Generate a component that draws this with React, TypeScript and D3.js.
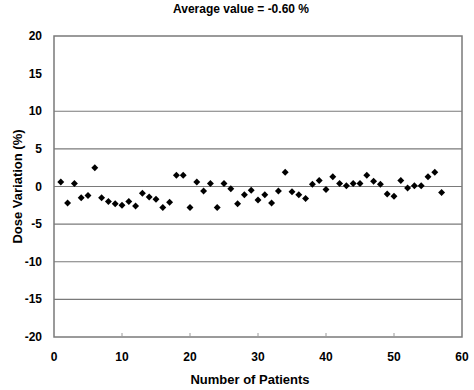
import React, { useEffect, useRef } from "react";
import * as d3 from "d3";

// dose variation (%) per patient, patients numbered 1..57
const doseVariation = [
  0.6, -2.2, 0.4, -1.5, -1.2, 2.5, -1.5, -2.0, -2.3, -2.5,
  -2.0, -2.6, -0.9, -1.4, -1.7, -2.8, -2.1, 1.5, 1.5, -2.8,
  0.6, -0.6, 0.4, -2.8, 0.4, -0.3, -2.3, -1.1, -0.5, -1.8,
  -1.1, -2.2, -0.6, 1.9, -0.7, -1.1, -1.6, 0.3, 0.8, -0.4,
  1.3, 0.4, 0.1, 0.4, 0.4, 1.5, 0.7, 0.3, -1.0, -1.3,
  0.8, -0.2, 0.1, 0.1, 1.3, 1.9, -0.8
];
const xTicks = [0, 10, 20, 30, 40, 50, 60];
const yTicks = [-20, -15, -10, -5, 0, 5, 10, 15, 20];
const gridValues = [-15, -10, -5, 0, 5, 10];
const title = "Average value = -0.60 %";
const xLabel = "Number of Patients";
const yLabel = "Dose Variation (%)";

const App = () => {
  const ref = useRef<SVGSVGElement>(null);

  useEffect(() => {
    const svgWidth = 474,
      svgHeight = 390;
    const margin = { top: 36, right: 12, bottom: 53, left: 54 };
    const width = svgWidth - margin.left - margin.right;
    const height = svgHeight - margin.top - margin.bottom;
    const font = "Arial, 'Liberation Sans', sans-serif";

    const svg = d3.select(ref.current);
    svg.selectAll("*").remove();
    svg.attr("width", svgWidth).attr("height", svgHeight);

    const g = svg
      .append("g")
      .attr("transform", `translate(${margin.left},${margin.top})`);

    const xScale = d3.scaleLinear().domain([0, 60]).range([0, width]);
    const yScale = d3.scaleLinear().domain([-20, 20]).range([height, 0]);

    // grid lines
    g.selectAll(".grid")
      .data(gridValues)
      .enter()
      .append("line")
      .attr("x1", 0)
      .attr("x2", width)
      .attr("y1", d => yScale(d))
      .attr("y2", d => yScale(d))
      .attr("stroke", "#7a7a7a")
      .attr("stroke-width", 1.2);

    // frame
    g.append("rect")
      .attr("x", 0)
      .attr("y", 0)
      .attr("width", width)
      .attr("height", height)
      .attr("fill", "none")
      .attr("stroke", "#7a7a7a")
      .attr("stroke-width", 1.5);

    // small ticks on bottom axis
    g.selectAll(".xtick")
      .data(xTicks.slice(1, -1))
      .enter()
      .append("line")
      .attr("x1", d => xScale(d))
      .attr("x2", d => xScale(d))
      .attr("y1", height)
      .attr("y2", height - 4)
      .attr("stroke", "#9a9a9a");

    g.selectAll(".xlab")
      .data(xTicks)
      .enter()
      .append("text")
      .attr("x", d => xScale(d))
      .attr("y", height + 24)
      .attr("text-anchor", "middle")
      .style("font-family", font)
      .style("font-weight", "bold")
      .style("font-size", "12px")
      .text(d => d);

    g.selectAll(".ylab")
      .data(yTicks)
      .enter()
      .append("text")
      .attr("x", -12)
      .attr("y", d => yScale(d) + 4)
      .attr("text-anchor", "end")
      .style("font-family", font)
      .style("font-weight", "bold")
      .style("font-size", "12px")
      .text(d => d);

    // diamonds: squares turned by 45 degrees
    const marker = d3.symbol().type(d3.symbolSquare).size(24);
    g.selectAll(".pt")
      .data(doseVariation)
      .enter()
      .append("path")
      .attr("d", marker)
      .attr(
        "transform",
        (d, i) => `translate(${xScale(i + 1)},${yScale(d)}) rotate(45)`
      )
      .attr("fill", "#000");

    svg
      .append("text")
      .attr("x", 241)
      .attr("y", 13)
      .attr("text-anchor", "middle")
      .style("font-family", font)
      .style("font-weight", "bold")
      .style("font-size", "12px")
      .text(title);

    svg
      .append("text")
      .attr("x", 250)
      .attr("y", 384)
      .attr("text-anchor", "middle")
      .style("font-family", font)
      .style("font-weight", "bold")
      .style("font-size", "13px")
      .text(xLabel);

    svg
      .append("text")
      .attr("transform", `translate(22,${margin.top + height / 2}) rotate(-90)`)
      .attr("text-anchor", "middle")
      .style("font-family", font)
      .style("font-weight", "bold")
      .style("font-size", "13px")
      .text(yLabel);
  }, []);

  return (
    <div style={{ position: "absolute", left: 0, top: 0 }}>
      <svg ref={ref} style={{ display: "block" }} />
    </div>
  );
};

export default App;
